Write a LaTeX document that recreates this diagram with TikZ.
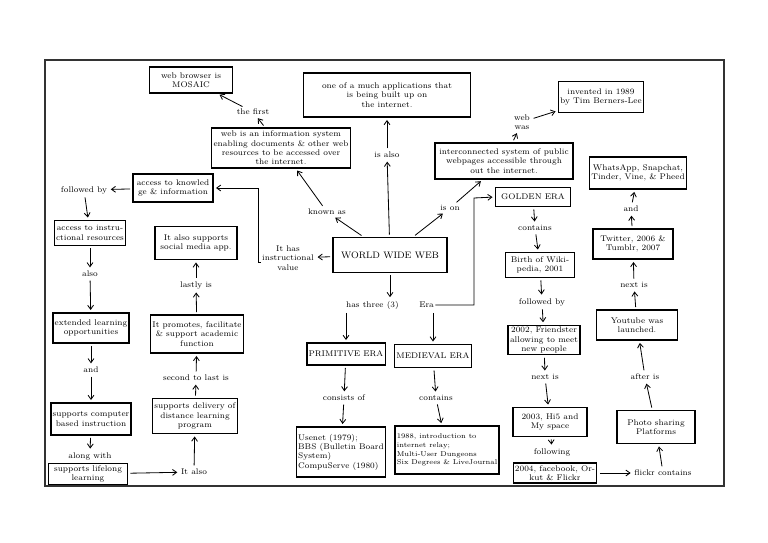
\documentclass[tikz,border=0pt]{standalone}
\usepackage{tikz}
\usetikzlibrary{arrows.meta,positioning,calc}

\begin{document}
\begin{tikzpicture}[x=0.03cm, y=-0.03cm, font=\scriptsize,
    box/.style={draw, line width=1.1pt, align=center, inner sep=1.5pt},
    sz/.style 2 args={minimum width=#1*0.03cm, minimum height=#2*0.03cm},
    lbl/.style={align=center, inner sep=1pt},
    arr/.style={-{Straight Barb[length=3.5pt,width=5pt]}, line width=0.7pt, shorten >=2pt, shorten <=2pt}]
    \useasboundingbox (0,0) rectangle (768,543);
    \draw[line width=1pt, black!80] (45,60) rectangle (724,486);

    % centre
    \node[box, sz={114}{35}, font=\footnotesize] (www) at (390,255) {WORLD WIDE WEB};
    \node[lbl] (isalso) at (387,155) {is also};
    \node[box, sz={167}{44}] (apps) at (387,95) {one of a much applications that\\is being built up on\\the internet.};
    \node[lbl] (knownas) at (327,212) {known as};
    \node[box, sz={125}{40}] (infosys) at (281,148) {web is an information system\\enabling documents \& other web\\resources to be accessed over\\the internet.};
    \node[lbl] (thefirst) at (253,112) {the first};
    \node[box, sz={83}{26}] (mosaic) at (191,80) {web browser is\\MOSAIC};
    \node[lbl] (ison) at (450,208) {is on};
    \node[box, sz={138}{36}] (interconn) at (504,161) {interconnected system of public\\webpages accessible through\\out the internet.};
    \node[lbl] (webwas) at (522,122) {web\\was};
    \node[box, sz={83}{31}] (invented) at (601,97) {invented in 1989\\by Tim Berners-Lee};
    \node[lbl] (instr) at (288,258) {It has\\instructional\\value};

    % left columns
    \node[box, sz={80}{28}] (knowl) at (173,188) {access to knowled\\ge \& information};
    \node[lbl] (followed1) at (84,190) {followed by};
    \node[box, sz={70}{25}] (instres) at (90,233) {access to instru-\\ctional resources};
    \node[lbl] (also) at (90,274) {also};
    \node[box, sz={72}{30}] (extended) at (91,328) {extended learning\\opportunities};
    \node[lbl] (and1) at (91,370) {and};
    \node[box, sz={76}{32}] (computer) at (91,419) {supports computer\\based instruction};
    \node[lbl] (alongwith) at (90,456) {along with};
    \node[box, sz={79}{20}] (lifelong) at (88,474) {supports lifelong\\learning};
    \node[lbl] (italso) at (194,472) {It also};
    \node[box, sz={84}{35}] (distance) at (195,416) {supports delivery of\\distance learning\\program};
    \node[lbl] (second) at (196,378) {second to last is};
    \node[box, sz={92}{38}] (academic) at (197,334) {It promotes, facilitate\\\& support academic\\function};
    \node[lbl] (lastly) at (196,285) {lastly is};
    \node[box, sz={82}{33}] (social) at (196,243) {It also supports\\social media app.};

    % eras
    \node[lbl] (threeera) at (390,305) {has three (3)\hspace{2.5em}Era};
    \node[box, sz={76}{22}] (prim) at (346,354) {PRIMITIVE ERA};
    \node[box, sz={73}{23}] (medi) at (433,356) {MEDIEVAL ERA};
    \node[lbl] (consists) at (344,398) {consists of};
    \node[lbl] (contains1) at (436,398) {contains};
    \node[box, sz={85}{50}, align=left] (usenet) at (341,452) {Usenet (1979);\\BBS (Bulletin Board\\System)\\CompuServe (1980)};
    \node[box, sz={102}{48}, align=left, font=\fontsize{6}{7.4}\selectfont] (irc) at (447,450) {1988, introduction to\\internet relay;\\Multi-User Dungeons\\Six Degrees \& LiveJournal};

    % golden era
    \node[box, sz={75}{19}] (golden) at (533,197) {GOLDEN ERA};
    \node[lbl] (contains2) at (535,228) {contains};
    \node[box, sz={69}{25}] (wiki) at (540,265) {Birth of Wiki-\\pedia, 2001};
    \node[lbl] (followed2) at (542,302) {followed by};
    \node[box, sz={72}{28}] (friendster) at (544,340) {2002, Friendster\\allowing to meet\\new people};
    \node[lbl] (nextis1) at (545,377) {next is};
    \node[box, sz={74}{29}] (myspace) at (550,422) {2003, Hi5 and\\My space};
    \node[lbl] (following) at (552,452) {following};
    \node[box, sz={77}{20}] (facebook) at (555,473) {2004, facebook, Or-\\kut \& Flickr};
    \node[lbl] (flickr) at (663,473) {flickr contains};
    \node[box, sz={78}{33}] (photo) at (656,427) {Photo sharing\\Platforms};
    \node[lbl] (afteris) at (645,377) {after is};
    \node[box, sz={81}{30}] (youtube) at (637,325) {Youtube was\\launched.};
    \node[lbl] (nextis2) at (634,285) {next is};
    \node[box, sz={80}{30}] (twitter) at (633,244) {Twitter, 2006 \&\\Tumblr, 2007};
    \node[lbl] (and2) at (631,209) {and};
    \node[box, sz={91}{32}] (whatsapp) at (638,173) {WhatsApp, Snapchat,\\Tinder, Vine, \& Pheed};

    \coordinate (valturn) at (258,188);
    \coordinate (eraturn) at (474,198);

    % connectors
    \draw[arr] (www) -- (isalso);
    \draw[arr] (isalso) -- (apps);
    \draw[arr] (www) -- (knownas);
    \draw[arr] (knownas) -- (infosys);
    \draw[arr] (infosys) -- (thefirst);
    \draw[arr] (thefirst) -- (mosaic);
    \draw[arr] (www) -- (ison);
    \draw[arr] (ison) -- (interconn);
    \draw[arr] (interconn) -- (webwas);
    \draw[arr] (webwas) -- (invented);
    \draw[arr] (www) -- (instr);
    \draw[arr, shorten <=0pt] ([yshift=-4pt]instr.west) -| (valturn) -- (knowl.east);
    \draw[arr] (knowl) -- (followed1);
    \draw[arr] (followed1) -- (instres);
    \draw[arr] (instres) -- (also);
    \draw[arr] (also) -- (extended);
    \draw[arr] (extended) -- (and1);
    \draw[arr] (and1) -- (computer);
    \draw[arr] (computer) -- (alongwith);
    \draw[arr] (lifelong) -- (italso);
    \draw[arr] (italso) -- (distance);
    \draw[arr] (distance) -- (second);
    \draw[arr] (second) -- (academic);
    \draw[arr] (academic) -- (lastly);
    \draw[arr] (lastly) -- (social);
    \draw[arr] (www) -- (threeera);
    \draw[arr] (prim |- threeera.south) -- (prim);
    \draw[arr] (medi |- threeera.south) -- (medi);
    \draw[arr] (prim) -- (consists);
    \draw[arr] (consists) -- (usenet);
    \draw[arr] (medi) -- (contains1);
    \draw[arr] (contains1) -- (irc);
    \draw[arr, shorten <=0pt] (threeera.east) -| (eraturn) -- (golden.west);
    \draw[arr] (golden) -- (contains2);
    \draw[arr] (contains2) -- (wiki);
    \draw[arr] (wiki) -- (followed2);
    \draw[arr] (followed2) -- (friendster);
    \draw[arr] (friendster) -- (nextis1);
    \draw[arr] (nextis1) -- (myspace);
    \draw[arr] (myspace) -- (following);
    \draw[arr] (facebook) -- (flickr);
    \draw[arr] (flickr) -- (photo);
    \draw[arr] (photo) -- (afteris);
    \draw[arr] (afteris) -- (youtube);
    \draw[arr] (youtube) -- (nextis2);
    \draw[arr] (nextis2) -- (twitter);
    \draw[arr] (twitter) -- (and2);
    \draw[arr] (and2) -- (whatsapp);
\end{tikzpicture}
\end{document}
